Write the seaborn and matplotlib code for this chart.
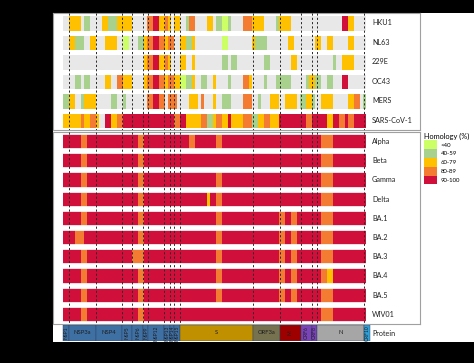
import matplotlib
matplotlib.use("Agg")
import matplotlib.pyplot as plt
from matplotlib.colors import ListedColormap
from matplotlib.patches import Patch, Rectangle
import numpy as np
import pandas as pd
import seaborn as sns

# homology classes; the letter codes used in the row runs below
classes = ["no data", "<40", "40-59", "60-79", "80-89", "90-100"]
codes = {".": 0, "l": 1, "g": 2, "y": 3, "o": 4, "r": 5}
class_colors = ["#e8e8e8", "#ccff66", "#a9d18e", "#ffc000", "#f47c32", "#d0103a"]

# each row is a list of runs "<n><code>" along the genome (101 columns)
coronaviruses = ["HKU1", "NL63", "229E", "OC43", "MERS", "SARS-CoV-1"]
coronavirus_runs = [
    "2. 4y 1. 2g 4. 2y 3g 5y 5. 2o 2r 2y 1o 1y 1. 2y 2. 1g 2o 4. 2y 1. 2g 2l 1g 4. 3o 4y 4. 1g 4y 17. 2r 2y 4.",
    "2. 2y 3g 2. 2y 3. 4y 2. 2l 3. 2g 1y 2o 2r 2o 1y 2o 2. 2y 2g 1y 9. 2l 8. 1y 4g 7. 2y 7. 2y 2. 2y 5. 2y 4.",
    "27. 1y 2o 2r 2y 1o 1y 3. 2y 2. 1y 9. 2g 1. 2g 9. 2g 7. 2y 12. 1g 2. 4y 4.",
    "4. 2g 1. 2g 5. 2y 2. 2o 3y 4. 1y 2o 2r 2o 1y 2o 2y 2l 2g 1y 2. 2g 2. 1y 4. 1g 4. 2o 1y 4. 1g 3. 5g 5. 1g 2y 2g 2. 2g 3. 2r 6.",
    "2g 2y 2. 1g 4y 5. 2g 2. 1g 7. 2o 2r 2o 1. 3o 4. 3y 1. 1o 3. 1y 2. 3g 4. 3o 2. 1g 3. 3y 2. 4y 1. 2g 2y 1g 2. 4y 5. 2y 2o 1. 1g",
    "6y 1o 2y 2o 1y 2. 2r 2y 2o 17r 2o 2r 5y 2o 2g 1y 2o 2y 1r 4y 3o 2g 2y 2o 3y 9r 2o 5r 2y 2r 2o 1r 2o 4r",
]

variants = ["Alpha", "Beta", "Gamma", "Delta", "BA.1", "BA.2", "BA.3", "BA.4", "BA.5", "WIV01"]
variant_runs = [
    "6r 2o 17r 2o 15r 2o 7r 2o 33r 4o 11r",
    "6r 2o 17r 2o 59r 4o 11r",
    "6r 2o 17r 2o 24r 2o 33r 4o 11r",
    "6r 2o 17r 2o 21r 1y 2r 2o 33r 4o 11r",
    "6r 2o 17r 2o 24r 2o 19r 2o 2r 2o 8r 4o 11r",
    "4r 3o 18r 2o 24r 2o 19r 2o 2r 2o 8r 4o 11r",
    "6r 2o 15r 4o 24r 2o 19r 2o 2r 2o 8r 4o 11r",
    "6r 2o 17r 2o 24r 2o 19r 2o 2r 2o 8r 2o 2y 11r",
    "6r 2o 17r 2o 24r 2o 19r 2o 2r 2o 8r 4o 11r",
    "6r 2o 17r 2o 59r 4o 11r",
]

# protein map along the same genome axis
protein_names = ["NSP1", "NSP3a", "NSP4", "NSP5", "NSP6", "NSP9", "NSP12", "NSP13",
                 "NSP14", "NSP15", "S", "ORF3a", "M", "ORF6", "ORF8", "N", "ORF10"]
protein_edges = [0, 2.1, 11, 19.8, 23.1, 26.8, 28.4, 33.8, 35.7, 37.1, 39,
                 63.3, 72.3, 79.3, 83, 84.7, 100.3, 102.3]
protein_colors = ["#3f70a4", "#3f70a4", "#3f70a4", "#3f70a4", "#3f70a4", "#3f70a4",
                  "#3f70a4", "#3f70a4", "#3f70a4", "#3f70a4", "#c09000", "#76724f",
                  "#9e0000", "#7a44b8", "#7a44b8", "#a6a6a6", "#2f9fd8"]


def expand(runs):
    row = []
    for tok in runs.split():
        row += [codes[tok[-1]]] * int(tok[:-1])
    return row


W, H = 474, 363


def box(x0, y0, x1, y1):
    return [x0 / W, 1 - y1 / H, (x1 - x0) / W, (y1 - y0) / H]


plt.rcParams["font.family"] = ["Lato", "DejaVu Sans"]

fig = plt.figure(figsize=(W / 100, H / 100), dpi=100)
fig.patch.set_facecolor("black")
fig.add_artist(Rectangle((53 / W, 1 - 342 / H), (W - 53) / W, (342 - 13) / H,
                         transform=fig.transFigure, facecolor="white",
                         edgecolor="none", zorder=-1))

cmap = ListedColormap(class_colors)
xlim = (-10 / 3, 357 / 3)
bounds = protein_edges[1:-1]


def panel(rect, names, runs, gap):
    ax = fig.add_axes(rect)
    df = pd.DataFrame([expand(r) for r in runs], index=names)
    sns.heatmap(df, ax=ax, cmap=cmap, vmin=-0.5, vmax=5.5, cbar=False,
                xticklabels=False, yticklabels=False)
    n = len(names)
    ax.set_xlim(*xlim)
    ax.set_ylim(n, 0)
    ax.set_facecolor("white")
    ax.hlines(np.arange(n + 1), xlim[0], xlim[1], colors="white",
              linewidth=gap, zorder=2)
    ax.vlines(bounds, 0, n, colors="#2a2a2a", linewidth=0.7,
              linestyles=(0, (2.2, 2.2)), zorder=3)
    for i, name in enumerate(names):
        ax.text(103, i + 0.5, name, va="center", ha="left", fontsize=5.2,
                color="#222222")
    for sp in ax.spines.values():
        sp.set_visible(True)
        sp.set_color("#a0a0a0")
        sp.set_linewidth(0.8)
    ax.set_xlabel("")
    ax.set_ylabel("")
    return ax


panel(box(53, 13, 420, 130), coronaviruses, coronavirus_runs, 3.6)
panel(box(53, 132, 420, 324), variants, variant_runs, 4.1)

# protein bar
axp = fig.add_axes(box(53, 325, 420, 341))
starts = np.array(protein_edges[:-1])
widths = np.diff(protein_edges)
axp.barh(0.5, widths, left=starts, height=1, color=protein_colors,
         edgecolor="#2b3f5c", linewidth=0.3)
for name, s, w in zip(protein_names, starts, widths):
    rot = 90 if w < 8 else 0
    axp.text(s + w / 2, 0.5, name, ha="center", va="center", rotation=rot,
             fontsize=3.6 if rot else 4.2, color="#1e1e1e")
axp.text(103, 0.5, "Protein", va="center", ha="left", fontsize=5.2, color="#222222")
axp.set_xlim(*xlim)
axp.set_ylim(0, 1)
axp.axis("off")

# legend
handles = [Patch(facecolor=c, edgecolor="none") for c in class_colors[1:]]
fig.legend(handles, classes[1:], title="Homology (%)", loc="upper left",
           bbox_to_anchor=(424 / W, 1 - 133 / H), frameon=False, fontsize=4.3,
           title_fontsize=5.3, handlelength=2.2, handleheight=1.9, labelspacing=0,
           handletextpad=0.6, borderpad=0, borderaxespad=0, alignment="left")

fig.savefig("out.png", dpi=100)
